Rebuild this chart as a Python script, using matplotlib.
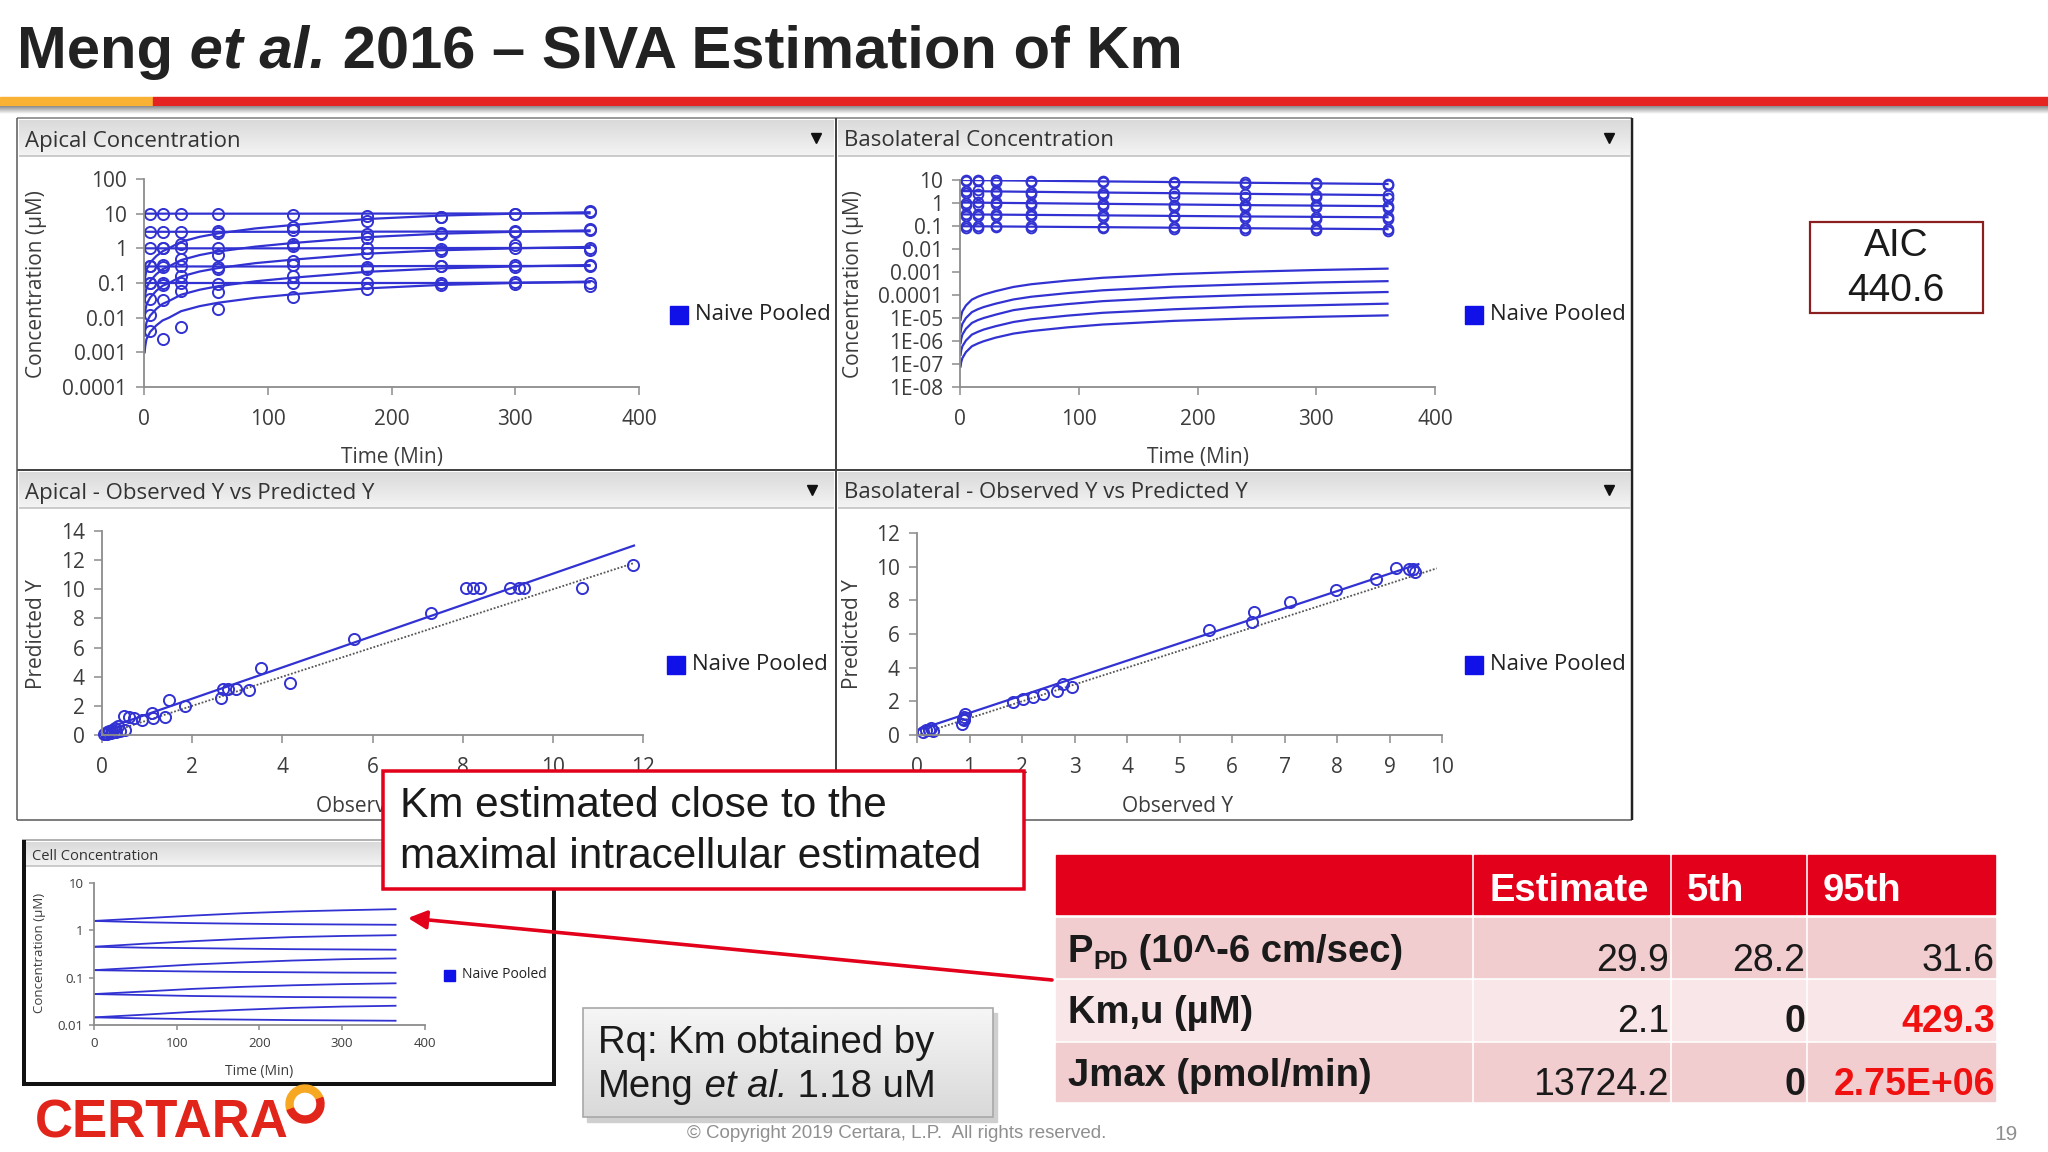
import numpy as np
import matplotlib
matplotlib.use("Agg")
import matplotlib.pyplot as plt
import matplotlib.colors as mcolors
from matplotlib.patches import Rectangle, Wedge
from matplotlib.ticker import NullLocator

W, H = 2048, 1152
SLIDE = "Liberation Sans"
plt.rcParams["font.family"] = ["Open Sans", "DejaVu Sans"]

# ---------------- data ----------------
TIME_TICKS = [0, 100, 200, 300, 400]
T_DONOR = [0, 120, 240, 360]
T_RECV = [0.5, 1, 2, 5, 10, 15, 20, 30, 45, 60, 90, 120, 180, 240, 300, 360]
T_OBS = [5, 15, 30, 60, 120, 180, 240, 300, 360]

# apical compartment (uM)
APICAL_DONOR = [
    [10.0, 10.0, 10.1, 10.2],
    [3.0, 3.0, 3.05, 3.1],
    [1.0, 1.0, 1.02, 1.03],
    [0.30, 0.30, 0.31, 0.31],
    [0.10, 0.10, 0.10, 0.105],
]
APICAL_RECV = [
    [0.10, 0.15, 0.24, 0.39, 0.6, 0.82, 1.0, 1.55, 2.15, 2.7, 3.75, 4.7, 7.0, 8.8, 10.0, 11.0],
    [0.03, 0.046, 0.073, 0.115, 0.18, 0.25, 0.3, 0.46, 0.64, 0.81, 1.12, 1.42, 2.1, 2.65, 3.0, 3.3],
    [0.0099, 0.0154, 0.024, 0.038, 0.06, 0.083, 0.099, 0.154, 0.215, 0.27, 0.374, 0.47, 0.70, 0.88, 1.0, 1.1],
    [0.003, 0.0046, 0.0073, 0.0115, 0.018, 0.025, 0.03, 0.046, 0.064, 0.081, 0.112, 0.142, 0.21, 0.265, 0.30, 0.33],
    [0.001, 0.0015, 0.0024, 0.0039, 0.006, 0.0083, 0.0099, 0.0154, 0.0215, 0.027, 0.0374, 0.047, 0.07, 0.088, 0.1, 0.11],
]
APICAL_OBS = [
    [10.0, 10.0, 10.0, 9.6, 9.2, 8.6, 8.0, 9.8, 12.0],
    [3.0, 2.9, 3.0, 3.2, 3.4, 2.6, 2.7, 3.1, 3.3],
    [1.0, 1.0, 1.05, 1.0, 1.15, 1.0, 0.95, 1.25, 1.05],
    [0.30, 0.32, 0.30, 0.29, 0.32, 0.29, 0.30, 0.32, 0.31],
    [0.10, 0.10, 0.10, 0.095, 0.10, 0.10, 0.10, 0.105, 0.10],
    [0.3, 1.0, 1.3, 2.7, 4.2, 6.0, 8.2, 10.0, 11.5],
    [0.1, 0.28, 0.5, 0.65, 1.3, 2.0, 2.6, 3.0, 3.6],
    [0.035, 0.09, 0.16, 0.25, 0.42, 0.72, 0.85, 1.0, 0.9],
    [0.012, 0.032, 0.06, 0.055, 0.16, 0.26, 0.3, 0.28, 0.34],
    [0.004, 0.0025, 0.0055, 0.018, 0.04, 0.065, 0.09, 0.095, 0.08],
]

# basolateral compartment (uM)
BASO_DONOR = [
    [10.0, 8.7, 7.6, 6.7],
    [3.3, 2.85, 2.5, 2.2],
    [1.05, 0.92, 0.81, 0.73],
    [0.32, 0.29, 0.26, 0.24],
    [0.098, 0.089, 0.08, 0.073],
]
BASO_RECV = [
    [8.4e-6, 1.26e-5, 1.96e-5, 3.5e-5, 6.3e-5, 8.4e-5, 1.05e-4, 1.47e-4, 2.24e-4, 2.94e-4, 4.2e-4, 5.6e-4, 8.1e-4, 1.02e-3, 1.22e-3, 1.4e-3],
    [2.4e-6, 3.6e-6, 5.6e-6, 1.0e-5, 1.8e-5, 2.4e-5, 3.0e-5, 4.2e-5, 6.4e-5, 8.4e-5, 1.2e-4, 1.6e-4, 2.3e-4, 2.9e-4, 3.5e-4, 4.0e-4],
    [8.1e-7, 1.2e-6, 1.9e-6, 3.4e-6, 6.1e-6, 8.1e-6, 1.0e-5, 1.4e-5, 2.2e-5, 2.8e-5, 4.0e-5, 5.4e-5, 7.8e-5, 9.9e-5, 1.17e-4, 1.35e-4],
    [2.5e-7, 3.8e-7, 5.9e-7, 1.05e-6, 1.9e-6, 2.5e-6, 3.15e-6, 4.4e-6, 6.7e-6, 8.8e-6, 1.26e-5, 1.68e-5, 2.4e-5, 3.1e-5, 3.6e-5, 4.2e-5],
    [7.8e-8, 1.2e-7, 1.8e-7, 3.3e-7, 5.9e-7, 7.8e-7, 9.8e-7, 1.4e-6, 2.1e-6, 2.7e-6, 3.9e-6, 5.2e-6, 7.5e-6, 9.5e-6, 1.13e-5, 1.3e-5],
]
BASO_OBS_A = [
    [10.0, 10.5, 10.0, 9.3, 9.0, 8.5, 7.8, 7.5, 6.5],
    [3.2, 3.5, 3.3, 3.0, 2.8, 2.6, 2.5, 2.3, 2.2],
    [1.05, 1.1, 1.1, 1.0, 0.95, 0.85, 0.8, 0.78, 0.75],
    [0.34, 0.34, 0.33, 0.32, 0.3, 0.28, 0.28, 0.25, 0.24],
    [0.1, 0.1, 0.1, 0.1, 0.095, 0.09, 0.085, 0.08, 0.075],
]
BASO_OBS_B = [
    [9.0, 9.0, 8.0, 8.5, 8.0, 7.5, 6.8, 6.7, 6.0],
    [2.6, 2.5, 2.6, 2.4, 2.2, 2.1, 1.8, 1.8, 1.7],
    [0.85, 0.85, 0.9, 0.85, 0.75, 0.7, 0.68, 0.65, 0.6],
    [0.27, 0.27, 0.27, 0.27, 0.25, 0.24, 0.22, 0.21, 0.2],
    [0.085, 0.085, 0.087, 0.085, 0.08, 0.075, 0.07, 0.065, 0.06],
]

# cell compartment (uM)
T_CELL = [0, 60, 120, 180, 240, 300, 365]
CELL_UP = [
    [1.58, 1.8, 2.05, 2.3, 2.5, 2.65, 2.8],
    [0.45, 0.52, 0.59, 0.66, 0.72, 0.76, 0.79],
    [0.144, 0.165, 0.19, 0.21, 0.23, 0.245, 0.255],
    [0.045, 0.051, 0.058, 0.064, 0.069, 0.073, 0.076],
    [0.0145, 0.0165, 0.019, 0.021, 0.023, 0.0245, 0.0255],
]
CELL_DOWN = [
    [1.58, 1.48, 1.42, 1.38, 1.35, 1.33, 1.31],
    [0.45, 0.43, 0.42, 0.41, 0.40, 0.395, 0.39],
    [0.144, 0.139, 0.135, 0.132, 0.13, 0.128, 0.127],
    [0.045, 0.043, 0.041, 0.040, 0.039, 0.0385, 0.038],
    [0.0145, 0.0138, 0.0133, 0.013, 0.0127, 0.0125, 0.0123],
]

# observed vs predicted
AP_OBSERVED = [11.78, 10.64, 8.08, 8.22, 8.38, 9.06, 9.24, 9.36, 7.29, 5.6, 3.52, 4.17, 3.25,
               2.68, 2.8, 2.98, 2.65, 1.85, 1.49, 1.39, 1.11, 1.14, 0.89, 0.72, 0.6, 0.48,
               0.35, 0.28, 0.22, 0.15, 0.1, 0.05, 0.4, 0.5, 0.3, 0.2, 0.12, 0.08]
AP_PREDICTED = [11.65, 10.07, 10.1, 10.1, 10.1, 10.1, 10.1, 10.1, 8.4, 6.6, 4.63, 3.55, 3.1,
                3.14, 3.14, 3.14, 2.57, 2.02, 2.41, 1.26, 1.54, 1.15, 1.03, 1.15, 1.26, 1.33,
                0.6, 0.45, 0.35, 0.3, 0.2, 0.1, 0.25, 0.35, 0.2, 0.15, 0.1, 0.05]
AP_FIT_X = [0.0, 11.8]
AP_FIT_Y = [0.35, 13.0]
AP_UNITY = [0.0, 11.8]

BA_OBSERVED = [9.13, 9.37, 9.49, 9.44, 8.74, 7.99, 7.11, 6.41, 6.38, 5.56, 2.96, 2.79, 2.66,
               2.4, 2.21, 2.01, 1.82, 0.9, 0.9, 0.85, 0.91, 0.88, 0.17, 0.26, 0.22, 0.3, 0.12]
BA_PREDICTED = [9.95, 9.85, 9.66, 9.85, 9.27, 8.59, 7.9, 7.32, 6.73, 6.24, 2.83, 3.02, 2.63,
                2.44, 2.24, 2.15, 1.95, 1.07, 0.88, 0.68, 1.27, 0.95, 0.29, 0.39, 0.3, 0.25, 0.2]
BA_FIT_X = [0.0, 9.55]
BA_FIT_Y = [0.28, 10.15]
BA_UNITY = [0.0, 9.9]

# parameter table
TABLE_HEAD = ["Estimate", "5th", "95th"]
TABLE_VALUES = [["29.9", "28.2", "31.6"],
                ["2.1", "0", "429.3"],
                ["13724.2", "0", "2.75E+06"]]
TABLE_BOLD = [[False, False, False], [False, True, True], [False, True, True]]
TABLE_RED = [[False, False, False], [False, False, True], [False, False, True]]
AIC = "440.6"

# ---------------- styling ----------------
BLUE = "#3232D2"
LEG_BLUE = "#1010E8"
RED = "#E2001A"
AXC = "#8c8c8c"
TXT = "#3c3c3c"
LW = 1.6
PT = 0.72  # points per pixel at dpi 100

fig = plt.figure(figsize=(W / 100, H / 100), dpi=100)
fig.patch.set_facecolor("white")


def canvas(z):
    a = fig.add_axes([0, 0, 1, 1])
    a.set_xlim(0, W)
    a.set_ylim(H, 0)
    a.axis("off")
    a.patch.set_visible(False)
    a.set_zorder(z)
    return a


bg = canvas(0)
ov = canvas(10)


def gradient(ax, x0, y0, x1, y1, top, bottom, z=1):
    c = np.array([mcolors.to_rgb(top), mcolors.to_rgb(bottom)])
    img = np.linspace(c[0], c[1], 50)[:, None, :]
    ax.imshow(img, extent=(x0, x1, y1, y0), aspect="auto", zorder=z, interpolation="bilinear")


def hline(ax, x0, x1, y, color, px, z=3):
    ax.plot([x0, x1], [y, y], color=color, lw=px * PT, solid_capstyle="butt", zorder=z)


def vline(ax, x, y0, y1, color, px, z=3):
    ax.plot([x, x], [y0, y1], color=color, lw=px * PT, solid_capstyle="butt", zorder=z)


def runs(ax, x, y, parts, size, color="#1a1a1a", z=5):
    r = fig.canvas.get_renderer()
    for text, style in parts:
        st = dict(style)
        t = ax.text(x, y + st.pop("dy", 0), text, fontsize=st.pop("size", size), family=SLIDE,
                    color=st.pop("color", color), va="baseline", ha="left", zorder=z, **st)
        x += t.get_window_extent(r).width


def chart(x0, x1, ytop, ybot, xlim, ylim, xticks, yticks, ylabels=None, log=False,
          fs=15, tick=8, padx=10, pady=6.5):
    ax = fig.add_axes([x0 / W, 1 - ybot / H, (x1 - x0) / W, (ybot - ytop) / H])
    ax.set_zorder(2)
    ax.patch.set_visible(False)
    if log:
        ax.set_yscale("log")
    ax.set_xlim(*xlim)
    ax.set_ylim(*ylim)
    ax.set_xticks(xticks)
    ax.set_yticks(yticks)
    ax.set_yticklabels(ylabels if ylabels else [str(v) for v in yticks])
    ax.yaxis.set_minor_locator(NullLocator())
    ax.xaxis.set_minor_locator(NullLocator())
    for s in ("top", "right"):
        ax.spines[s].set_visible(False)
    for s in ("left", "bottom"):
        ax.spines[s].set_color(AXC)
        ax.spines[s].set_linewidth(1.3)
    ax.tick_params(direction="out", length=tick * PT, width=1.1, color=AXC,
                   labelsize=fs, labelcolor=TXT)
    ax.tick_params(axis="x", pad=padx)
    ax.tick_params(axis="y", pad=pady)
    return ax


def legend(x, y, sq=18, fs=16):
    bg.add_patch(Rectangle((x, y - sq / 2), sq, sq, color=LEG_BLUE, zorder=4))
    bg.text(x + sq + 7, y, "Naive Pooled", fontsize=fs, color="#222222", va="center", ha="left", zorder=4)


def header(x0, x1, y0, y1, title, tri_x, fs=16, tri=True):
    gradient(bg, x0, y0, x1, y1, "#DADADA", "#F4F4F4", z=2)
    hline(bg, x0, x1, y1, "#BDBDBD", 1.5)
    bg.text(x0 + 6, (y0 + y1) / 2 + 3, title, fontsize=fs, color="#333333", va="center", ha="left", zorder=4)
    if tri:
        bg.plot([tri_x], [(y0 + y1) / 2], marker="v", color="#111111", ms=7, zorder=4)


# ---------------- slide title and bar ----------------
runs(bg, 17, 68, [("Meng", {"weight": "bold"}),
                  (" et al.", {"weight": "bold", "style": "italic"}),
                  (" 2016 \u2013 SIVA Estimation of Km", {"weight": "bold"})], 43, color="#222222")
bg.add_patch(Rectangle((0, 97), 153, 9, color="#F9B233", zorder=2))
bg.add_patch(Rectangle((153, 97), W - 153, 9, color="#E52421", zorder=2))
gradient(bg, 0, 106, W, 114, "#8a8a8a", "#ffffff", z=2)

# ---------------- four chart panels ----------------
bg.add_patch(Rectangle((17, 118), 1615, 702, color="white", zorder=1))
header(19, 834, 120, 156, "Apical Concentration", 816)
header(838, 1630, 120, 156, "Basolateral Concentration", 1609)
header(19, 834, 472, 508, "Apical - Observed Y vs Predicted Y", 812)
header(838, 1630, 472, 508, "Basolateral - Observed Y vs Predicted Y", 1609)
hline(bg, 17, 1632, 118, "#9a9a9a", 2)
hline(bg, 17, 1632, 820, "#555555", 1.5)
hline(bg, 17, 1632, 469.5, "#444444", 2)
vline(bg, 17, 118, 820, "#555555", 1.5)
vline(bg, 836, 118, 820, "#444444", 2)
vline(bg, 1632, 118, 820, "#222222", 2.5)

# apical concentration
ax = chart(144, 639, 179, 387, (0, 400), (1e-4, 100), TIME_TICKS,
           [100, 10, 1, 0.1, 0.01, 0.001, 0.0001],
           ["100", "10", "1", "0.1", "0.01", "0.001", "0.0001"], log=True)
for v in APICAL_DONOR + APICAL_RECV:
    t = T_DONOR if len(v) == len(T_DONOR) else T_RECV
    ax.plot(t, v, color=BLUE, lw=LW)
for v in APICAL_OBS:
    ax.plot(T_OBS, v, "o", mfc="none", mec=BLUE, ms=8, mew=1.4, clip_on=False)
bg.text(392, 458, "Time (Min)", fontsize=15, color=TXT, ha="center", va="center", zorder=4)
bg.text(37, 284, "Concentration (\u00b5M)", fontsize=15, color=TXT, ha="center", va="center",
        rotation=90, zorder=4)
legend(670, 315)

# basolateral concentration
ax = chart(960, 1435, 180, 387, (0, 400), (1e-8, 10), TIME_TICKS,
           [10, 1, 0.1, 0.01, 0.001, 1e-4, 1e-5, 1e-6, 1e-7, 1e-8],
           ["10", "1", "0.1", "0.01", "0.001", "0.0001", "1E-05", "1E-06", "1E-07", "1E-08"], log=True)
for v in BASO_DONOR:
    ax.plot(T_DONOR, v, color=BLUE, lw=LW)
for v in BASO_RECV:
    ax.plot(T_RECV, v, color=BLUE, lw=LW)
for v in BASO_OBS_A + BASO_OBS_B:
    ax.plot(T_OBS, v, "o", mfc="none", mec=BLUE, ms=7, mew=1.4, clip_on=False)
bg.text(1198, 458, "Time (Min)", fontsize=15, color=TXT, ha="center", va="center", zorder=4)
bg.text(853, 284, "Concentration (\u00b5M)", fontsize=15, color=TXT, ha="center", va="center",
        rotation=90, zorder=4)
legend(1465, 315)

# apical observed vs predicted
ax = chart(102, 643, 531, 735, (0, 12), (0, 14), [0, 2, 4, 6, 8, 10, 12],
           [0, 2, 4, 6, 8, 10, 12, 14])
ax.plot(AP_UNITY, AP_UNITY, ls=(0, (1, 1)), color="#555555", lw=1.3)
ax.plot(AP_FIT_X, AP_FIT_Y, color=BLUE, lw=LW)
ax.plot(AP_OBSERVED, AP_PREDICTED, "o", mfc="none", mec=BLUE, ms=8, mew=1.4, clip_on=False)
bg.text(372, 807, "Observed Y", fontsize=15, color=TXT, ha="center", va="center", zorder=4)
bg.text(37, 634, "Predicted Y", fontsize=15, color=TXT, ha="center", va="center", rotation=90, zorder=4)
legend(667, 665)

# basolateral observed vs predicted
ax = chart(917, 1442, 533, 735, (0, 10), (0, 12), list(range(0, 11)), [0, 2, 4, 6, 8, 10, 12])
ax.plot(BA_UNITY, BA_UNITY, ls=(0, (1, 1)), color="#555555", lw=1.3)
ax.plot(BA_FIT_X, BA_FIT_Y, color=BLUE, lw=LW)
ax.plot(BA_OBSERVED, BA_PREDICTED, "o", mfc="none", mec=BLUE, ms=8, mew=1.4, clip_on=False)
bg.text(1178, 807, "Observed Y", fontsize=15, color=TXT, ha="center", va="center", zorder=4)
bg.text(852, 634, "Predicted Y", fontsize=15, color=TXT, ha="center", va="center", rotation=90, zorder=4)
legend(1465, 665)

# ---------------- cell concentration panel ----------------
bg.add_patch(Rectangle((24, 840), 530, 244, color="white", zorder=1))
header(26, 552, 842, 866, "Cell Concentration", 0, fs=10.5, tri=False)
hline(bg, 22, 556, 840, "#9a9a9a", 1.5)
vline(bg, 24, 840, 1084, "#111111", 4)
vline(bg, 554, 840, 1084, "#111111", 4)
hline(bg, 22, 556, 1084, "#111111", 4)
ax = chart(94, 424.5, 883, 1025, (0, 400), (0.01, 10), TIME_TICKS, [10, 1, 0.1, 0.01],
           ["10", "1", "0.1", "0.01"], log=True, fs=9.5, tick=5, padx=5, pady=4)
for up, dn in zip(CELL_UP, CELL_DOWN):
    ax.plot(T_CELL, up, color=BLUE, lw=1.3)
    ax.plot(T_CELL, dn, color=BLUE, lw=1.3)
bg.text(259, 1072, "Time (Min)", fontsize=10, color=TXT, ha="center", va="center", zorder=4)
bg.text(40, 953, "Concentration (\u00b5M)", fontsize=9.5, color=TXT, ha="center", va="center",
        rotation=90, zorder=4)
legend(444, 975, sq=11, fs=10)

# ---------------- parameter table ----------------
COLX = [1054, 1472, 1670, 1806, 1996]
ROWY = [(855, 914), (918, 977), (980, 1040), (1043, 1101)]
ROW_FILL = ["#E3001B", "#F2CDD0", "#F8E6E8", "#F2CDD0"]
for r, (y0, y1) in enumerate(ROWY):
    for c in range(4):
        bg.add_patch(Rectangle((COLX[c] + 1.5, y0), COLX[c + 1] - COLX[c] - 3, y1 - y0,
                               color=ROW_FILL[r], zorder=2))
for c, name in enumerate(TABLE_HEAD):
    bg.text(COLX[c + 1] + 17, 901, name, family=SLIDE, fontsize=27.5, weight="bold",
            color="white", ha="left", va="baseline", zorder=4)
runs(bg, 1068, 962, [("P", {"weight": "bold"}),
                     ("PD", {"weight": "bold", "size": 18, "dy": 7}),
                     (" (10^-6 cm/sec)", {"weight": "bold"})], 27.5)
runs(bg, 1068, 1023, [("Km,u (\u00b5M)", {"weight": "bold"})], 27.5)
runs(bg, 1068, 1086, [("Jmax (pmol/min)", {"weight": "bold"})], 27.5)
VAL_BASE = [971, 1032, 1095]
for r, row in enumerate(TABLE_VALUES):
    for c, val in enumerate(row):
        bg.text(COLX[c + 2] - 1, VAL_BASE[r], val, family=SLIDE, fontsize=27,
                weight="bold" if TABLE_BOLD[r][c] else "normal",
                color="#F01010" if TABLE_RED[r][c] else "#1a1a1a",
                ha="right", va="baseline", zorder=4)

# ---------------- callouts ----------------
ov.add_patch(Rectangle((383, 771), 641, 118, facecolor="white", edgecolor=RED, lw=3.5 * PT, zorder=3))
box_kw = dict(family=SLIDE, fontsize=30.5, color="#1a1a1a", ha="left", va="center", zorder=4)
ov.text(400, 806, "Km estimated close to the", **box_kw)
ov.text(400, 857, "maximal intracellular estimated", **box_kw)
ov.annotate("", xy=(408, 918), xytext=(1052, 980),
            arrowprops=dict(arrowstyle="-|>", color=RED, lw=2.6, mutation_scale=28,
                            shrinkA=0, shrinkB=0), zorder=5)

# AIC box
ov.add_patch(Rectangle((1810, 222), 173, 91, facecolor="white", edgecolor="#8B1E1E", lw=1.6, zorder=3))
ov.text(1896, 246, "AIC", family=SLIDE, fontsize=28, color="#1a1a1a", ha="center", va="center", zorder=4)
ov.text(1896, 291, AIC, family=SLIDE, fontsize=28, color="#1a1a1a", ha="center", va="center", zorder=4)

# Rq box
bg.add_patch(Rectangle((587, 1013), 410, 109, color="#CFCFCF", zorder=2))
gradient(bg, 583, 1008, 993, 1117, "#F6F6F6", "#D9D9D9", z=3)
bg.add_patch(Rectangle((583, 1008), 410, 109, facecolor="none", edgecolor="#A8A8A8", lw=1.2, zorder=4))
runs(bg, 598, 1053, [("Rq: Km obtained by", {})], 27.5)
runs(bg, 598, 1097, [("Meng", {}), (" et al.", {"style": "italic"}), (" 1.18 uM", {})], 27.5)

# ---------------- footer ----------------
bg.text(35, 1137, "CERTARA", family=SLIDE, fontsize=38, weight="bold", color="#E1251B",
        ha="left", va="baseline", zorder=4)
bg.add_patch(Wedge((305, 1104), 19, -200, -20, width=7, color="#F7A823", zorder=4))
bg.add_patch(Wedge((305, 1104), 19, -20, 160, width=7, color="#E1251B", zorder=4))
bg.text(897, 1134, "\u00a9 Copyright 2019 Certara, L.P.  All rights reserved.", family=SLIDE,
        fontsize=13.5, color="#8f8f8f", ha="center", va="center", zorder=4)
bg.text(2018, 1134, "19", family=SLIDE, fontsize=15, color="#8f8f8f", ha="right", va="center", zorder=4)

for a in (bg, ov):
    a.set_xlim(0, W)
    a.set_ylim(H, 0)

fig.savefig("out.png", dpi=100, facecolor="white")
